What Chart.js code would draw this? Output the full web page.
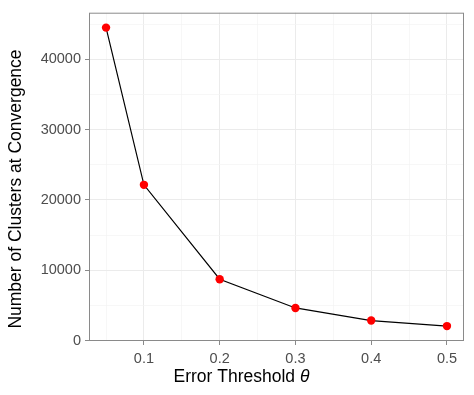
<!DOCTYPE html>
<html>
<head>
<meta charset="utf-8">
<script src="https://cdn.jsdelivr.net/npm/chart.js@4"></script>
<style>
  html, body { margin: 0; padding: 0; background: #fff; }
  #wrap { width: 474px; height: 395px; }
</style>
</head>
<body>
<div id="wrap"><canvas id="myChart" width="474" height="395"></canvas></div>
<script>
// data
var thresholds = [0.05, 0.1, 0.2, 0.3, 0.4, 0.5]
var clusters = [44500, 22150, 8730, 4650, 2860, 2070]
var xMajor = [0.1, 0.2, 0.3, 0.4, 0.5]
var xMinor = [0.05, 0.15, 0.25, 0.35, 0.45]
var yMajor = [0, 10000, 20000, 30000, 40000]
var yMinor = [5000, 15000, 25000, 35000, 45000]
var xTitle = 'Error Threshold '
var xTitleSymbol = 'θ'
var yTitle = 'Number of Clusters at Convergence'

var fontName = '"Liberation Sans", Arial, Helvetica, sans-serif'

function isMajor(list, v) {
    return list.some(function (m) { return Math.abs(m - v) < 1e-9 })
}

// grey box round the panel, like theme_bw
const panelBorder = {
    id: 'panelBorder',
    afterDraw(chart) {
        const a = chart.chartArea
        const c = chart.ctx
        c.save()
        c.strokeStyle = '#8a8a8a'
        c.lineWidth = 1
        c.strokeRect(a.left + 0.5, a.top + 0.5, a.right - a.left - 1, a.bottom - a.top - 1)
        c.restore()
    }
}

// axis titles (theta in italic, placed where the reference has them)
const axisTitles = {
    id: 'axisTitles',
    afterDraw(chart) {
        const c = chart.ctx
        c.save()
        c.fillStyle = '#000000'
        c.textBaseline = 'middle'
        c.font = '17.5px ' + fontName
        c.textAlign = 'left'
        var w = c.measureText(xTitle).width
        var sw = 0
        c.save()
        c.font = 'italic 17.5px ' + fontName
        sw = c.measureText(xTitleSymbol).width
        c.restore()
        var x0 = 241.5 - (w + sw) / 2
        c.fillText(xTitle, x0, 377)
        c.font = 'italic 17.5px ' + fontName
        c.fillText(xTitleSymbol, x0 + w, 377)

        c.font = '17.5px ' + fontName
        c.translate(16, 189)
        c.rotate(-Math.PI / 2)
        c.textAlign = 'center'
        c.fillText(yTitle, 0, 0)
        c.restore()
    }
}

var points = thresholds.map(function (t, i) { return { x: t, y: clusters[i] } })

const ctx = document.getElementById('myChart').getContext('2d')
const myChart = new Chart(ctx, {
    type: 'line',
    data: {
        datasets: [{
            data: points,
            borderColor: '#000000',
            borderWidth: 1.2,
            pointRadius: 4.2,
            pointBackgroundColor: '#ff0000',
            pointBorderColor: '#ff0000',
            pointBorderWidth: 0,
            tension: 0
        }]
    },
    options: {
        responsive: false,
        animation: false,
        layout: { padding: { top: 10, right: 10, left: 0, bottom: 0 } },
        plugins: {
            legend: { display: false },
            tooltip: { enabled: false }
        },
        scales: {
            x: {
                type: 'linear',
                min: 0.0275,
                max: 0.5225,
                afterBuildTicks: function (scale) {
                    scale.ticks = xMinor.concat(xMajor).sort(function (a, b) { return a - b })
                        .map(function (v) { return { value: v } })
                },
                afterFit: function (scale) { scale.height = 54 },
                border: { display: false },
                grid: {
                    color: function (c) { return isMajor(xMajor, c.tick.value) ? '#ebebeb' : '#f4f4f4' },
                    lineWidth: function (c) { return isMajor(xMajor, c.tick.value) ? 1 : 0.7 },
                    tickColor: function (c) { return isMajor(xMajor, c.tick.value) ? '#8a8a8a' : 'rgba(0,0,0,0)' },
                    tickLength: 4
                },
                ticks: {
                    autoSkip: false,
                    maxRotation: 0,
                    padding: 5,
                    color: '#4d4d4d',
                    font: { family: fontName, size: 14.5 },
                    callback: function (v) { return isMajor(xMajor, v) ? v.toFixed(1) : '' }
                },
                title: { display: false, text: xTitle + xTitleSymbol }
            },
            y: {
                min: -50,
                max: 46620,
                afterBuildTicks: function (scale) {
                    scale.ticks = yMajor.concat(yMinor).sort(function (a, b) { return a - b })
                        .map(function (v) { return { value: v } })
                },
                afterFit: function (scale) { scale.width = 89 },
                border: { display: false },
                grid: {
                    color: function (c) { return isMajor(yMajor, c.tick.value) ? '#ebebeb' : '#f4f4f4' },
                    lineWidth: function (c) { return isMajor(yMajor, c.tick.value) ? 1 : 0.7 },
                    tickColor: function (c) { return isMajor(yMajor, c.tick.value) ? '#8a8a8a' : 'rgba(0,0,0,0)' },
                    tickLength: 4
                },
                ticks: {
                    autoSkip: false,
                    padding: 4,
                    color: '#4d4d4d',
                    font: { family: fontName, size: 14.5 },
                    callback: function (v) { return isMajor(yMajor, v) ? String(v) : '' }
                },
                title: { display: false, text: yTitle }
            }
        }
    },
    plugins: [panelBorder, axisTitles]
})
</script>
</body>
</html>
